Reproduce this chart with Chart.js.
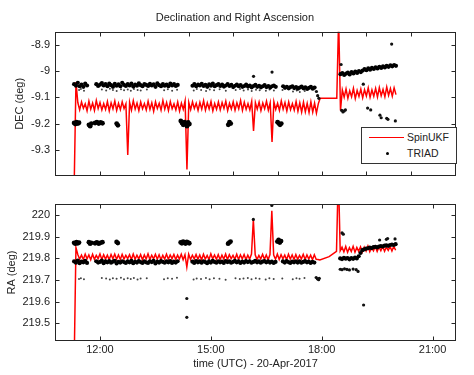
<!DOCTYPE html>
<html><head><meta charset="utf-8">
<script src="https://cdn.jsdelivr.net/npm/chart.js@4.4.1/dist/chart.umd.min.js"></script>
<style>
html,body{margin:0;padding:0;background:#fff;}
#wrap{position:relative;width:474px;height:375px;overflow:hidden;font-family:'Liberation Sans',Arial,sans-serif;color:#222;}
#c1{position:absolute;left:0;top:0;}
#c2{position:absolute;left:0;top:190px;}
#legend{position:absolute;left:361px;top:127px;width:96px;height:37px;border:1px solid #333;background:#fff;box-sizing:border-box;font-size:10.5px;}
#legend .ln{position:absolute;left:7px;top:9px;width:35px;height:0;border-top:1px solid #f00;}
#legend .dot{position:absolute;left:23.5px;top:23.5px;width:3px;height:3px;border-radius:50%;background:#000;}
#legend .t{position:absolute;left:45px;line-height:12px;}
</style></head><body>
<div id="wrap">
<canvas id="c1" width="474" height="190"></canvas>
<canvas id="c2" width="474" height="185"></canvas>
<div id="legend"><div class="ln"></div><span class="t" style="top:3px">SpinUKF</span><div class="dot"></div><span class="t" style="top:19px">TRIAD</span></div>
</div>
<script>
// ---- sample times (minutes after 00:00 UTC, 20-Apr-2017) ----
const tMin = [
678,681,684,687,690,693,696,699,702,705,
708,711,714,717,720,723,726,729,732,735,
738,741,744,747,750,753,756,759,762,765,
768,771,774,777,780,783,786,789,792,795,
798,801,804,807,810,813,816,819,822,825,
828,831,834,837,840,843,846,849,852,855,
858,861,864,867,870,873,876,879,882,885,
888,891,894,897,900,903,906,909,912,915,
918,921,924,927,930,933,936,939,942,945,
948,951,954,957,960,963,966,969,972,975,
978,981,984,987,990,993,996,999,1002,1005,
1008,1011,1014,1017,1020,1023,1026,1029,1032,1035,
1038,1041,1044,1047,1050,1053,1056,1059,1062,1065,
1068,1071,1074,1077,1080,1083,1086,1089,1092,1095,
1098,1101,1104,1107,1110,1113,1116,1119,1122,1125,
1128,1131,1134,1137,1140,1143,1146,1149,1152,1155,
1158,1161,1164,1167,1170,1173,1176,1179,1182,1185,
1188,1191,1194,1197,1200];

// ---- SpinUKF estimates ----
const ukfDec = [
-9.45,-9.042,-9.12,-9.148,-9.118,-9.142,-9.125,-9.152,-9.115,-9.145,
-9.122,-9.15,-9.112,-9.143,-9.12,-9.148,-9.124,-9.146,-9.116,-9.152,
-9.121,-9.144,-9.114,-9.15,-9.123,-9.147,-9.117,-9.143,-9.125,-9.32,
-9.119,-9.149,-9.113,-9.145,-9.122,-9.151,-9.118,-9.144,-9.124,-9.148,
-9.115,-9.146,-9.121,-9.153,-9.117,-9.143,-9.123,-9.149,-9.112,-9.145,
-9.12,-9.15,-9.116,-9.144,-9.125,-9.148,-9.118,-9.152,-9.122,-9.146,
-9.114,-9.375,-9.12,-9.147,-9.117,-9.143,-9.123,-9.15,-9.119,-9.145,
-9.113,-9.149,-9.121,-9.144,-9.116,-9.152,-9.124,-9.146,-9.118,-9.148,
-9.12,-9.143,-9.115,-9.151,-9.123,-9.145,-9.117,-9.149,-9.121,-9.144,
-9.112,-9.15,-9.119,-9.146,-9.124,-9.148,-9.116,-9.228,-9.12,-9.145,
-9.118,-9.151,-9.122,-9.144,-9.115,-9.149,-9.121,-9.27,-9.117,-9.146,
-9.123,-9.15,-9.114,-9.145,-9.12,-9.152,-9.118,-9.147,-9.124,-9.149,
-9.116,-9.153,-9.121,-9.156,-9.119,-9.155,-9.123,-9.158,-9.117,-9.156,
-9.122,-9.16,-9.125,-9.104,null,null,null,null,null,null,
null,null,-9.104,-8.8,-9.15,-9.072,-9.1,-9.068,-9.104,-9.075,
-9.098,-9.066,-9.105,-9.074,-9.097,-9.069,-9.102,-9.071,-9.095,-9.064,
-9.1,-9.072,-9.096,-9.066,-9.099,-9.063,-9.094,-9.07,-9.098,-9.061,
-9.093,-9.067,-9.096,-9.064,-9.09];

const ukfRa = [
219.3,219.85,219.818,219.797,219.815,219.795,219.82,219.798,219.816,219.794,
219.819,219.796,219.814,219.799,219.821,219.795,219.817,219.797,219.815,219.794,
219.818,219.798,219.82,219.796,219.816,219.795,219.819,219.797,219.814,219.799,
219.817,219.795,219.82,219.796,219.815,219.798,219.818,219.794,219.816,219.797,
219.821,219.795,219.815,219.798,219.819,219.796,219.817,219.794,219.814,219.797,
219.82,219.796,219.816,219.799,219.818,219.795,219.815,219.797,219.819,219.794,
219.817,219.76,219.82,219.795,219.815,219.798,219.818,219.796,219.816,219.794,
219.819,219.797,219.814,219.795,219.821,219.798,219.816,219.796,219.818,219.794,
219.815,219.797,219.82,219.795,219.817,219.799,219.814,219.796,219.819,219.795,
219.816,219.798,219.818,219.794,219.815,219.797,219.82,219.98,219.817,219.795,
219.814,219.798,219.819,219.796,219.816,219.794,219.818,220.02,219.815,219.796,
219.82,219.795,219.817,219.798,219.815,219.794,219.819,219.797,219.816,219.795,
219.818,219.796,219.814,219.798,219.819,219.795,219.816,219.797,219.815,219.794,
219.817,219.796,219.795,219.793,null,null,null,null,219.808,null,
null,null,219.833,220.2,219.835,219.852,219.83,219.855,219.828,219.85,
219.832,219.856,219.829,219.851,219.833,219.854,219.83,219.852,219.834,219.857,
219.831,219.85,219.835,219.855,219.832,219.853,219.836,219.856,219.833,219.852,
219.837,219.855,219.834,219.856,219.838];

// ---- TRIAD solutions (main band) ----
const triadDec = [
-9.05,-9.056,-9.045,-9.058,-9.052,-9.06,-9.048,-9.055,null,null,
null,null,-9.05,-9.057,-9.052,-9.046,-9.055,-9.05,-9.058,-9.048,
-9.054,-9.06,-9.049,-9.056,-9.051,-9.058,-9.045,-9.053,-9.057,-9.05,
-9.055,-9.048,-9.059,-9.052,-9.056,-9.047,-9.054,-9.058,-9.05,-9.053,
-9.057,-9.049,-9.055,-9.051,-9.06,-9.047,-9.054,-9.058,-9.05,-9.056,
-9.052,-9.058,-9.048,-9.055,-9.05,-9.057,-9.053,null,null,null,
null,null,null,null,-9.056,-9.05,-9.058,-9.052,-9.055,-9.049,
-9.057,-9.053,-9.06,-9.051,-9.056,-9.048,-9.058,-9.054,-9.05,-9.057,
-9.052,-9.059,-9.055,-9.05,-9.057,-9.053,-9.061,-9.056,-9.052,-9.058,
-9.054,-9.06,-9.057,-9.052,-9.059,-9.055,-9.062,-9.057,-9.053,-9.06,
-9.056,-9.062,-9.058,-9.054,-9.061,-9.057,-9.063,-9.058,-9.055,-9.06,
null,null,null,-9.058,-9.064,-9.06,-9.066,-9.061,-9.058,-9.065,
-9.061,-9.067,-9.063,-9.059,-9.066,-9.062,-9.068,-9.064,-9.06,-9.067,
-9.063,null,null,null,null,null,null,null,null,null,
null,null,null,null,-9.012,-9.008,-9.015,-9.01,-9.006,-9.013,
-9.004,-9.009,-9.002,-9.007,-9.0,-9.004,-8.998,-8.993,-8.997,-8.99,
-8.995,-8.988,-8.992,-8.986,-8.99,-8.984,-8.988,-8.982,-8.986,-8.98,
-8.984,-8.978,-8.982,-8.977,-8.98];

const triadRa = [
219.786,219.78,219.79,219.778,219.785,219.782,219.789,219.779,null,null,
null,null,219.787,219.781,219.784,219.79,219.778,219.786,219.782,219.788,
219.78,219.785,219.789,219.777,219.784,219.781,219.787,219.783,219.779,219.786,
219.782,219.789,219.778,219.785,219.781,219.788,219.783,219.779,219.786,219.782,
219.779,219.787,219.783,219.789,219.777,219.785,219.781,219.788,219.784,219.78,
219.786,219.782,219.788,219.779,219.785,219.781,219.787,null,null,null,
null,null,null,null,219.785,219.779,219.788,219.782,219.786,219.78,
219.787,219.783,219.778,219.786,219.781,219.789,219.784,219.78,219.787,219.782,
219.785,219.779,219.788,219.783,219.786,219.78,219.784,219.789,219.782,219.786,
219.779,219.785,219.781,219.788,219.783,219.787,219.78,219.784,219.789,219.782,
219.786,219.78,219.785,219.788,219.782,219.787,219.781,219.785,219.779,219.784,
null,null,null,219.786,219.781,219.788,219.783,219.779,219.785,219.782,
219.787,219.781,219.786,219.78,219.784,219.788,219.782,219.785,219.779,219.784,
219.781,null,null,null,null,null,null,null,null,null,
null,null,null,null,219.8,219.797,219.803,219.799,219.802,219.796,
219.801,219.798,219.804,219.8,219.81,219.825,219.838,219.842,219.845,219.847,
219.85,219.848,219.852,219.854,219.851,219.855,219.857,219.855,219.859,219.86,
219.858,219.862,219.864,219.862,219.866];

// ---- TRIAD alternate-solution clusters ----
const clusterTime = [678,680,682,684,686,702,704,706,712,715,718,721,724,747,749,851,853,855,857,859,861,863,865,928,930,932,1008,1010,1012,1014];
const clusterDec = [-9.198,-9.202,-9.195,-9.2,-9.197,-9.205,-9.21,-9.2,-9.198,-9.195,-9.2,-9.196,-9.199,-9.2,-9.207,-9.19,-9.198,-9.205,-9.195,-9.2,-9.21,-9.196,-9.202,-9.205,-9.195,-9.2,-9.195,-9.2,-9.205,-9.2];
const clusterRa = [219.872,219.868,219.875,219.87,219.873,219.875,219.868,219.872,219.87,219.874,219.868,219.872,219.875,219.876,219.871,219.874,219.87,219.878,219.872,219.869,219.876,219.873,219.87,219.868,219.873,219.878,219.878,219.885,219.873,219.88];

// ---- TRIAD sparse secondary points ----
const sparseTime = [686,689,694,723,730,736,741,747,754,759,765,770,775,781,786,796,824,830,837,845,872,877,884,892,898,905,914,924,940,947,953,960,966,973,979,989,995,1002,1016,1033,1039,1044,1052];
const sparseDec = [-9.072,-9.068,-9.075,-9.07,-9.074,-9.067,-9.072,-9.076,-9.069,-9.073,-9.07,-9.075,-9.068,-9.072,-9.074,-9.07,-9.073,-9.069,-9.075,-9.071,-9.074,-9.068,-9.072,-9.076,-9.07,-9.073,-9.069,-9.075,-9.072,-9.068,-9.074,-9.07,-9.076,-9.071,-9.073,-9.075,-9.07,-9.074,-9.072,-9.078,-9.074,-9.08,-9.076];
const sparseRa = [219.705,219.708,219.704,219.71,219.707,219.703,219.709,219.706,219.711,219.704,219.708,219.705,219.71,219.703,219.707,219.709,219.704,219.708,219.706,219.711,219.703,219.707,219.705,219.71,219.704,219.708,219.706,219.702,219.709,219.705,219.707,219.71,219.704,219.708,219.706,219.703,219.709,219.705,219.707,219.704,219.708,219.706,219.71];

// ---- TRIAD outliers ----
const decExtraTime = [969,999,1193,1071,1073,1075,1112,1114,1116,1118,1154,1159,1174,1176,1185,1187,1199,1111,1147];
const decExtraVal = [-9.02,-9.004,-8.897,-9.078,-9.094,-9.104,-9.15,-9.156,-9.152,-9.148,-9.141,-9.148,-9.168,-9.178,-9.18,-9.184,-9.19,-8.975,-9.05];
const raExtraTime = [861,861,999,969,1071,1073,1075,1076,1113,1115,1174,1185,1187,1199,1148,1139,1110,1113,1117,1121,1125,1131,1136];
const raExtraVal = [219.615,219.528,220.045,219.98,219.712,219.706,219.702,219.708,219.918,219.912,219.885,219.888,219.892,219.89,219.585,219.74,219.75,219.748,219.752,219.749,219.747,219.751,219.748];

// ---- axis ticks ----
const decTicks = [-9.3,-9.2,-9.1,-9.0,-8.9];
const raTicks = [219.5,219.6,219.7,219.8,219.9,220.0];
const topTimeTicks = [720,792,864,936,1008,1080,1152,1224];
const bottomTimeTicks = [720,900,1080,1260];

const zip = (t, v) => t.map((x, i) => ({x: x, y: v[i]}));
const fmtTime = m => String(Math.floor(m/60)).padStart(2,'0') + ':' + String(Math.round(m%60)).padStart(2,'0');
const FONT = "'Liberation Sans', Arial, sans-serif";
Chart.defaults.font.family = FONT;
Chart.defaults.font.size = 11;
Chart.defaults.color = '#222';

const boxPlugin = {
  id: 'matlabBox',
  afterDatasetsDraw(chart) {
    const {ctx, chartArea: a, scales: {x, y}} = chart;
    const L = Math.round(a.left) + 0.5, R = Math.round(a.right) - 0.5;
    const T = Math.round(a.top) + 0.5, B = Math.round(a.bottom) - 0.5;
    ctx.save();
    ctx.strokeStyle = '#262626';
    ctx.lineWidth = 1;
    ctx.strokeRect(L, T, R - L, B - T);
    ctx.beginPath();
    x.ticks.forEach(t => {
      const px = Math.round(x.getPixelForValue(t.value)) + 0.5;
      ctx.moveTo(px, B); ctx.lineTo(px, B - 4);
      ctx.moveTo(px, T); ctx.lineTo(px, T + 4);
    });
    y.ticks.forEach(t => {
      const py = Math.round(y.getPixelForValue(t.value)) + 0.5;
      ctx.moveTo(L, py); ctx.lineTo(L + 4, py);
      ctx.moveTo(R, py); ctx.lineTo(R - 4, py);
    });
    ctx.stroke();
    ctx.restore();
  }
};

function datasets(mainV, clV, spV, exT, exV, ukfV) {
  const dot = (data, r, c) => ({data, showLine:false, pointRadius:r, pointHoverRadius:r,
    pointBackgroundColor:c, pointBorderWidth:0});
  return [
    Object.assign({label:'TRIAD'}, dot(zip(tMin, mainV), 2.1, '#000')),
    Object.assign({label:'TRIAD alt'}, dot(zip(clusterTime, clV), 2.4, '#000')),
    Object.assign({label:'TRIAD sparse'}, dot(zip(sparseTime, spV), 1.0, '#444')),
    Object.assign({label:'TRIAD extra'}, dot(zip(exT, exV), 1.6, '#111')),
    {label:'SpinUKF', data: zip(tMin, ukfV), showLine:true, spanGaps:true, borderColor:'#ff0000',
     borderWidth:1.5, pointRadius:0, pointHoverRadius:0, tension:0}
  ];
}

function yScale(min, max, ticks, title, width) {
  return {
    type:'linear', min, max,
    grid:{display:false, drawTicks:false}, border:{display:false},
    ticks:{padding:5, color:'#222', font:{size:11}, callback: v => String(+(+v).toFixed(1))},
    afterBuildTicks: s => { s.ticks = ticks.map(v => ({value:v})); },
    afterFit: s => { s.width = width; },
    title:{display:true, text:title, font:{size:11}, color:'#222', padding:0}
  };
}

// Top: declination
new Chart(document.getElementById('c1'), {
  type:'scatter',
  data:{datasets: datasets(triadDec, clusterDec, sparseDec, decExtraTime, decExtraVal, ukfDec)},
  options:{
    responsive:false, animation:false, devicePixelRatio:1,
    layout:{padding:{left:13.4, right:17.6, top:0, bottom:0}},
    plugins:{
      legend:{display:false}, tooltip:{enabled:false},
      title:{display:true, text:'Declination and Right Ascension', font:{size:11, weight:'normal'}, color:'#222', padding:{top:11.5, bottom:7}}
    },
    scales:{
      x:{type:'linear', min:647, max:1298, grid:{display:false, drawTicks:false}, border:{display:false},
         ticks:{display:false},
         afterBuildTicks: s => { s.ticks = topTimeTicks.map(v => ({value:v})); },
         afterFit: s => { s.height = 14; }},
      y: yScale(-9.4, -8.85, decTicks, 'DEC (deg)', 55 - 13.4)
    }
  },
  plugins:[boxPlugin]
});

// Bottom: right ascension
new Chart(document.getElementById('c2'), {
  type:'scatter',
  data:{datasets: datasets(triadRa, clusterRa, sparseRa, raExtraTime, raExtraVal, ukfRa)},
  options:{
    responsive:false, animation:false, devicePixelRatio:1,
    layout:{padding:{left:5.1, right:18, top:14.3, bottom:4.4}},
    plugins:{legend:{display:false}, tooltip:{enabled:false}},
    scales:{
      x:{type:'linear', min:647, max:1298, grid:{display:false, drawTicks:false}, border:{display:false},
         ticks:{padding:3, color:'#222', font:{size:11}, maxRotation:0, callback: v => fmtTime(v)},
         afterBuildTicks: s => { s.ticks = bottomTimeTicks.map(v => ({value:v})); },
         afterFit: s => { s.height = 29.9; },
         title:{display:true, text:'time (UTC) - 20-Apr-2017', font:{size:11}, color:'#222', padding:0}},
      y: yScale(219.42, 220.05, raTicks, 'RA (deg)', 55 - 5.1)
    }
  },
  plugins:[boxPlugin]
});
</script>
</body></html>
